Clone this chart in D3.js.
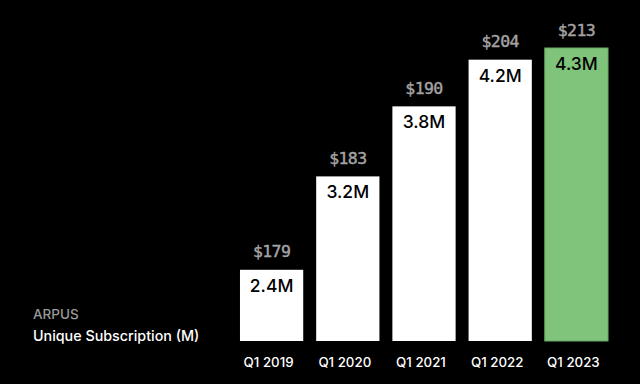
<!DOCTYPE html>
<html><head><meta charset="utf-8">
<script src="https://cdn.jsdelivr.net/npm/d3@7"></script>
<style>html,body{margin:0;padding:0;background:#000;}svg{display:block;}</style>
</head><body>
<svg id="chart" width="640" height="384"></svg>
<script>
const categories = ["Q1 2019","Q1 2020","Q1 2021","Q1 2022","Q1 2023"];
const subscriptions = [2.4, 3.2, 3.8, 4.2, 4.3];
const subLabels = ["2.4M","3.2M","3.8M","4.2M","4.3M"];
const arpus = ["$179","$183","$190","$204","$213"];

const svg = d3.select("#chart");
svg.append("rect").attr("width",640).attr("height",384).attr("fill","#000");

const x = d3.scaleBand().domain(categories).range([233.5, 614.5]).paddingInner(0.17).paddingOuter(0.085);
const y = d3.scaleLinear().domain([1.79, 4.3]).range([341, 48]);

const g = svg.append("g");
const data = categories.map((c,i)=>({c, v:subscriptions[i], l:subLabels[i], a:arpus[i], last:i===categories.length-1}));

g.selectAll("rect.bar").data(data).join("rect")
  .attr("class","bar")
  .attr("x", d=>x(d.c)).attr("width", x.bandwidth())
  .attr("y", d=>y(d.v)).attr("height", d=>y.range()[0]-y(d.v))
  .attr("fill", d=>d.last ? "#80c37a" : "#ffffff")
  .attr("stroke", d=>d.last ? "#6aa865" : "none").attr("stroke-width", 1);

g.selectAll("text.val").data(data).join("text")
  .attr("x", d=>x(d.c)+x.bandwidth()/2).attr("y", d=>y(d.v)+22)
  .attr("text-anchor","middle").attr("fill","#000")
  .attr("font-family","Inter, 'Liberation Sans', sans-serif").attr("font-weight",500).attr("font-size",17.5)
  .text(d=>d.l);

g.selectAll("text.arpu").data(data).join("text")
  .attr("x", d=>x(d.c)+x.bandwidth()/2).attr("y", d=>y(d.v)-12.5)
  .attr("text-anchor","middle").attr("fill","#a3a3a3")
  .attr("stroke","#a3a3a3").attr("stroke-width",0.45)
  .attr("font-family","'DejaVu Sans Mono', monospace").attr("font-size",16.5)
  .attr("letter-spacing",-0.6)
  .text(d=>d.a);

const xAxis = d3.axisBottom(x).tickSize(0).tickPadding(0);
const ax = svg.append("g").attr("transform","translate(-3,367)").call(xAxis);
ax.select(".domain").remove();
ax.selectAll("text").attr("fill","#fff").attr("dy",0)
  .attr("font-family","Inter, 'Liberation Sans', sans-serif").attr("font-weight",500).attr("font-size",13.3);

svg.append("text").attr("x",33).attr("y",319).attr("fill","#9a9a9a")
  .attr("font-family","Inter, 'Liberation Sans', sans-serif").attr("font-weight",500).attr("font-size",13.5)
  .text("ARPUS");
svg.append("text").attr("x",33).attr("y",341).attr("fill","#fff")
  .attr("font-family","Inter, 'Liberation Sans', sans-serif").attr("font-weight",500).attr("font-size",14.3)
  .text("Unique Subscription (M)");
</script>
</body></html>
